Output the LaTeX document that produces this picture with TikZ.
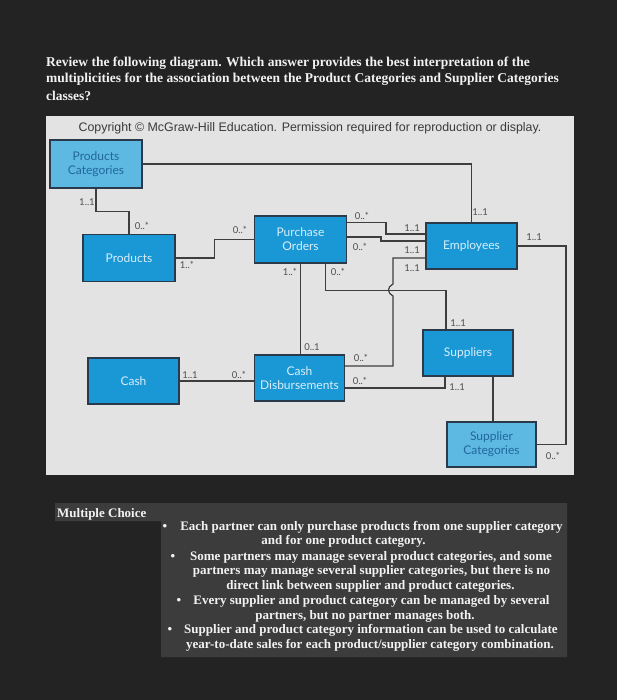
\documentclass[tikz,border=0pt]{standalone}
\usepackage{fontspec}
\setmainfont{Liberation Serif}
\newfontfamily\latofont{Lato}
\newfontfamily\arialfont{Liberation Sans}
\usetikzlibrary{calc}
\definecolor{bgdark}{HTML}{232323}
\definecolor{panelgray}{HTML}{E3E3E3}
\definecolor{boxblue}{HTML}{1A98D6}
\definecolor{lightblue}{HTML}{5DB9E2}
\definecolor{boxline}{HTML}{2A3A4A}
\definecolor{boxtext}{HTML}{D8EEFA}
\definecolor{lighttext}{HTML}{22679A}
\definecolor{linegray}{HTML}{3E3E3E}
\definecolor{labgray}{HTML}{4E4E4E}
\definecolor{copygray}{HTML}{3A3A3A}
\definecolor{answerbox}{HTML}{3C3C3C}
\definecolor{whitetext}{HTML}{F2F2F2}
\begin{document}
\begin{tikzpicture}[x=1pt,y=-1pt,
  umlbox/.style={draw=boxline, line width=1.2pt, fill=boxblue, text=boxtext,
    font=\latofont\fontsize{12}{14}\selectfont, align=center, inner sep=0pt},
  lightbox/.style={umlbox, fill=lightblue, text=lighttext},
  mult/.style={font=\latofont\fontsize{9.5}{10}\selectfont, text=labgray, inner sep=0pt},
  conn/.style={draw=linegray, line width=1.2pt},
  qtext/.style={font=\bfseries\fontsize{13.5}{15}\selectfont, text=whitetext, inner sep=0pt},
  atext/.style={font=\bfseries\fontsize{13}{15}\selectfont, text=whitetext, inner sep=0pt}
]
\useasboundingbox (0,0) rectangle (617,700);
\fill[bgdark] (0,0) rectangle (617,700);

% question
\node[qtext, anchor=west] (q1) at (46,63) {Review the following diagram. Which answer provides the best interpretation of the};
\node[qtext, anchor=west] (q2) at (46,79) {multiplicities for the association between the Product Categories and Supplier Categories};
\node[qtext, anchor=west] (q3) at (46,96) {classes?};

% panel
\fill[panelgray] (46,116) rectangle (574,475);
\node[font=\arialfont\fontsize{12.4}{14}\selectfont, text=copygray, inner sep=0pt] (copy) at (310,128)
  {Copyright © McGraw-Hill Education. Permission required for reproduction or display.};

% boxes
\node[lightbox, minimum width=92pt, minimum height=48pt] (PC) at (96,164) {Products\\Categories};
\node[umlbox, minimum width=92pt, minimum height=47pt] (Prod) at (129,258) {Products};
\node[umlbox, minimum width=92pt, minimum height=47pt] (PO) at (300.5,239.5) {Purchase\\Orders};
\node[umlbox, minimum width=91pt, minimum height=46pt] (Emp) at (471.5,246) {Employees};
\node[umlbox, minimum width=91pt, minimum height=46pt] (Cash) at (133.5,381) {Cash};
\node[umlbox, minimum width=90pt, minimum height=46pt] (CD) at (299.5,378) {Cash\\Disbursements};
\node[umlbox, minimum width=90pt, minimum height=46pt] (Supp) at (468,353) {Suppliers};
\node[lightbox, minimum width=89pt, minimum height=45pt] (SC) at (491.5,444.5) {Supplier\\Categories};

% connectors
\draw[conn] (PC.east) -| (Emp.north);
\draw[conn] (PC.south) -- ++(0,23) -| (Prod.north);
\draw[conn] (Prod.east) -| ($(Prod.east)!.5!(PO.west)$) |- (PO.west);
\draw[conn] ([yshift=17pt]PO.east) -| (386,228) |- ([yshift=12pt]Emp.west);
\draw[conn] ([yshift=2.5pt]PO.east) -| (381,239) |- ([yshift=5pt]Emp.west);
\coordinate (hA) at (393,284);
\coordinate (hB) at (393,296);
\draw[conn] ([yshift=-12pt]Emp.west) -| (hA) .. controls (387,287) and (387,293) .. (hB) |- ([yshift=12pt]CD.east);
\draw[conn] ([xshift=25pt]PO.south) -- ++(0,27) -| ([xshift=-22pt]Supp.north);
\draw[conn] (PO.south) -- (PO.south |- CD.north);
\draw[conn] (Cash.east) -- (Cash.east -| CD.west);
\draw[conn] ([yshift=-10pt]CD.east) -| ([xshift=-23pt]Supp.south);
\draw[conn] ([xshift=25pt]Supp.south) -- ([xshift=25pt]Supp.south |- SC.north);
\draw[conn] (Emp.east) -| (566,350) |- (SC.east);

% multiplicities
\node[mult] (m1) at (87,202) {1..1};
\node[mult] (m2) at (142,226) {0..*};
\node[mult] (m3) at (187,265) {1..*};
\node[mult] (m4) at (240,230) {0..*};
\node[mult] (m5) at (362,216) {0..*};
\node[mult] (m6) at (412,228) {1..1};
\node[mult] (m7) at (360,247) {0..*};
\node[mult] (m8) at (412,250) {1..1};
\node[mult] (m9) at (412,268) {1..1};
\node[mult] (m10) at (290,272) {1..*};
\node[mult] (m11) at (338,272) {0..*};
\node[mult] (m12) at (312,347) {0..1};
\node[mult] (m13) at (361,358) {0..*};
\node[mult] (m14) at (360,381) {0..*};
\node[mult] (m15) at (190,375) {1..1};
\node[mult] (m16) at (239,375) {0..*};
\node[mult] (m17) at (480,212) {1..1};
\node[mult] (m18) at (534,237) {1..1};
\node[mult] (m19) at (458,323) {1..1};
\node[mult] (m20) at (457,387) {1..1};
\node[mult] (m21) at (553,456) {0..*};

% multiple choice
\fill[answerbox] (55,503) -- (567,503) -- (567,657) -- (161,657) -- (161,521) -- (55,521) -- cycle;
\node[atext, anchor=west] (mc) at (57,514) {Multiple Choice};
\node[atext] (b1) at (165,527) {•};
\node[atext] (a1) at (371.5,527) {Each partner can only purchase products from one supplier category};
\node[atext] (a2) at (343.5,541) {and for one product category.};
\node[atext] (b2) at (173,557) {•};
\node[atext] (a3) at (371,557) {Some partners may manage several product categories, and some};
\node[atext] (a4) at (371.5,571) {partners may manage several supplier categories, but there is no};
\node[atext] (a5) at (370.5,586) {direct link between supplier and product categories.};
\node[atext] (b3) at (179,601) {•};
\node[atext] (a6) at (371.5,601) {Every supplier and product category can be managed by several};
\node[atext] (a7) at (365,616) {partners, but no partner manages both.};
\node[atext] (b4) at (170,630) {•};
\node[atext] (a8) at (371,630) {Supplier and product category information can be used to calculate};
\node[atext] (a9) at (370,645) {year-to-date sales for each product/supplier category combination.};
\end{tikzpicture}
\end{document}
